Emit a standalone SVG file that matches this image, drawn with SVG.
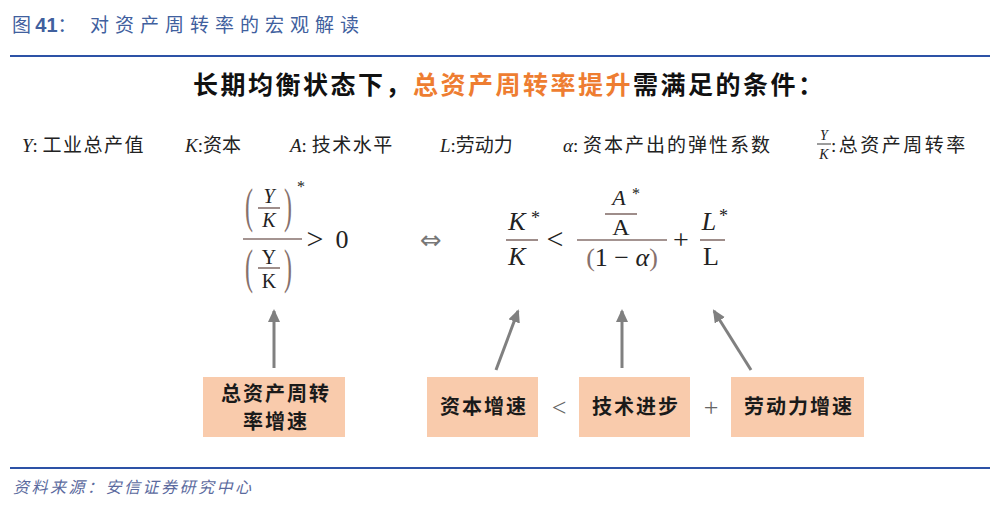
<svg xmlns="http://www.w3.org/2000/svg" width="1000" height="509" viewBox="0 0 1000 509">
<defs>
<marker id="ah" markerUnits="userSpaceOnUse" markerWidth="14" markerHeight="14" refX="11" refY="6" orient="auto">
<path d="M0,0 L13,6 L0,12 Z" fill="#808080"/>
</marker>
<style>
.cjk{font-family:"Noto Sans CJK SC",sans-serif}
.m{font-family:"Liberation Serif","DejaVu Serif",serif;fill:#222}
.mi{font-family:"Liberation Serif","DejaVu Serif",serif;font-style:italic;fill:#222}
.pr{font-family:"Liberation Serif",serif;fill:#86716d}
.fl{stroke:#86716d;stroke-width:1.6}
.leg{font-family:"Liberation Serif","Noto Sans CJK SC",serif;font-size:19px;fill:#222}
.box{fill:#f9cbac}
.bt{font-family:"Noto Sans CJK SC",sans-serif;font-weight:700;font-size:20px;fill:#1a1a1a;letter-spacing:2px;text-anchor:middle}
.arr{stroke:#808080;stroke-width:3;fill:none;marker-end:url(#ah)}
.op{font-family:"Liberation Serif",serif;fill:#666;text-anchor:middle}
</style>
</defs>
<rect width="1000" height="509" fill="#ffffff"/>

<g id="title">
<text class="cjk" x="12" y="32" font-size="19" fill="#40609e">图 <tspan font-family="Liberation Sans" font-weight="700" font-size="20">41</tspan>：<tspan x="90" letter-spacing="6">对资产周转率的宏观解读</tspan></text>
<line x1="10" y1="56" x2="990" y2="56" stroke="#2d52a6" stroke-width="2.2"/>
</g>

<g id="heading">
<text class="cjk" x="193" y="94" font-size="25" font-weight="700" fill="#111" letter-spacing="2.5">长期均衡状态下，<tspan fill="#ee7d31">总资产周转率提升</tspan>需满足的条件：</text>
</g>

<g id="legend">
<text class="leg" x="22" y="152"><tspan font-style="italic">Y</tspan>: <tspan letter-spacing="1.5">工业总产值</tspan></text>
<text class="leg" x="185" y="152"><tspan font-style="italic">K</tspan>:资本</text>
<text class="leg" x="290" y="152"><tspan font-style="italic">A</tspan>: <tspan letter-spacing="1.5">技术水平</tspan></text>
<text class="leg" x="440" y="152"><tspan font-style="italic">L</tspan>:劳动力</text>
<text class="leg" x="563" y="152"><tspan font-style="italic">α</tspan>: <tspan letter-spacing="2">资本产出的弹性系数</tspan></text>
<text class="mi" x="824" y="140" font-size="14" text-anchor="middle">Y</text>
<line x1="817" y1="144" x2="831" y2="144" stroke="#222" stroke-width="0.9"/>
<text class="mi" x="824" y="159" font-size="14" text-anchor="middle">K</text>
<text class="leg" x="831" y="152" letter-spacing="2.5">:总资产周转率</text>
</g>

<g id="formula-left">
<text class="pr" font-size="24" transform="translate(245,221.5) scale(1,2)">(</text>
<text class="pr" font-size="24" transform="translate(284,221.5) scale(1,2)">)</text>
<text class="mi" x="269" y="203" font-size="20" text-anchor="middle">Y</text>
<line class="fl" x1="258" y1="208" x2="280" y2="208"/>
<text class="mi" x="269" y="227" font-size="20" text-anchor="middle">K</text>
<text class="m" x="297" y="192" font-size="16">*</text>
<line class="fl" x1="243" y1="239" x2="302" y2="239"/>
<text class="pr" font-size="24" transform="translate(245,282.5) scale(1,2)">(</text>
<text class="pr" font-size="24" transform="translate(284,282.5) scale(1,2)">)</text>
<text class="m" x="269" y="264" font-size="20" text-anchor="middle">Y</text>
<line class="fl" x1="258" y1="268" x2="280" y2="268"/>
<text class="m" x="269" y="288" font-size="20" text-anchor="middle">K</text>
<text class="m" x="315" y="249" font-size="30" text-anchor="middle">&gt;</text>
<text class="m" x="342" y="248" font-size="26" text-anchor="middle">0</text>
</g>

<g id="equiv">
<text x="431" y="249" font-family="DejaVu Sans" font-size="26" fill="#777" text-anchor="middle">⇔</text>
</g>

<g id="formula-right">
<text class="mi" x="517" y="230" font-size="26" text-anchor="middle">K</text>
<text class="m" x="531" y="224" font-size="18">*</text>
<line class="fl" x1="506" y1="240" x2="538" y2="240"/>
<text class="mi" x="517" y="265" font-size="26" text-anchor="middle">K</text>
<text class="m" x="555" y="249" font-size="30" text-anchor="middle">&lt;</text>
<text class="mi" x="619" y="205" font-size="22" text-anchor="middle">A</text>
<text class="m" x="632" y="199" font-size="16">*</text>
<line class="fl" x1="605" y1="214" x2="637" y2="214"/>
<text class="m" x="621" y="235" font-size="24" text-anchor="middle">A</text>
<line class="fl" x1="577" y1="240" x2="667" y2="240"/>
<text x="622" y="266" font-size="26" text-anchor="middle" font-family="Liberation Serif" fill="#222"><tspan fill="#86716d">(</tspan>1 − <tspan font-style="italic">α</tspan><tspan fill="#86716d">)</tspan></text>
<text class="m" x="681" y="249" font-size="28" text-anchor="middle">+</text>
<text class="mi" x="709" y="230" font-size="26" text-anchor="middle">L</text>
<text class="m" x="719" y="222" font-size="18">*</text>
<line class="fl" x1="700" y1="240" x2="725" y2="240"/>
<text class="m" x="711" y="265" font-size="26" text-anchor="middle">L</text>
</g>

<g id="connectors">
<line class="arr" x1="274" y1="368" x2="274" y2="311"/>
<line class="arr" x1="496" y1="370" x2="518" y2="311"/>
<line class="arr" x1="622" y1="368" x2="622" y2="311"/>
<line class="arr" x1="751" y1="370" x2="714" y2="311"/>
</g>

<g id="node-asset-turnover">
<rect class="box" x="203" y="377" width="142" height="60"/>
<text class="bt" font-size="17" letter-spacing="4"><tspan x="276" y="401">总资产周转</tspan><tspan x="276" y="429">率增速</tspan></text>
</g>
<g id="node-capital">
<rect class="box" x="427" y="377" width="111" height="60"/>
<text class="bt" x="484" y="414">资本增速</text>
</g>
<g id="op-lt">
<text class="op" x="559" y="416" font-size="26">&lt;</text>
</g>
<g id="node-tech">
<rect class="box" x="579" y="377" width="111" height="60"/>
<text class="bt" x="636" y="414">技术进步</text>
</g>
<g id="op-plus">
<text class="op" x="711" y="416" font-size="26">+</text>
</g>
<g id="node-labor">
<rect class="box" x="731" y="377" width="133" height="60"/>
<text class="bt" x="799" y="414">劳动力增速</text>
</g>

<g id="footer">
<line x1="10" y1="468" x2="990" y2="468" stroke="#2d52a6" stroke-width="2"/>
<text class="cjk" x="13" y="493" font-size="16" font-style="italic" fill="#5b6a9e" letter-spacing="2.5">资料来源：安信证券研究中心</text>
</g>
</svg>
